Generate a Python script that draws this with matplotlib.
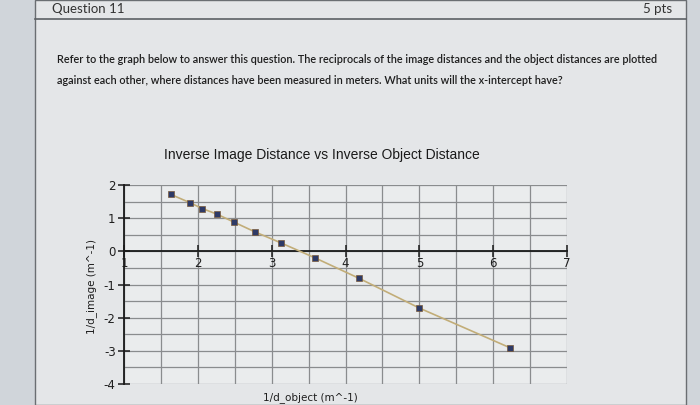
import matplotlib
matplotlib.use("Agg")
import matplotlib.pyplot as plt
from matplotlib.patches import Rectangle
from matplotlib.lines import Line2D
import numpy as np

# data
inv_object = [1.63, 1.90, 2.06, 2.26, 2.49, 2.77, 3.13, 3.59, 4.18, 5.00, 6.23]
inv_image = [1.72, 1.46, 1.29, 1.12, 0.88, 0.59, 0.25, -0.20, -0.81, -1.71, -2.91]
x_ticks = [1, 2, 3, 4, 5, 6, 7]
y_ticks = [-4, -3, -2, -1, 0, 1, 2]

title = "Inverse Image Distance vs Inverse Object Distance"
x_label = "1/d_object (m^-1)"
y_label = "1/d_image (m^-1)"
question = ("Refer to the graph below to answer this question. The reciprocals of the image distances and the object distances are plotted\n"
            "against each other, where distances have been measured in meters. What units will the x-intercept have?")

W, H = 700, 405
fig = plt.figure(figsize=(7, 4.05), dpi=100)
fig.patch.set_facecolor("#d0d5da")

def fx(px):
    return px / W

def fy(py):
    return 1 - py / H

# card
fig.patches.append(Rectangle((fx(35), 0), fx(686) - fx(35), fy(0), transform=fig.transFigure,
                             facecolor="#e4e6e8", edgecolor="#6a6e72", lw=1.0, zorder=-10))
fig.add_artist(Line2D([fx(35), fx(686)], [fy(19), fy(19)], transform=fig.transFigure,
                      color="#5c6064", lw=1.2, zorder=-9))
fig.text(fx(52), fy(9), "Question 11", fontsize=9.5, family="Lato", color="#333333", va="center")
fig.text(fx(672), fy(9), "5 pts", fontsize=9.5, family="Lato", color="#333333", va="center", ha="right")

fig.text(fx(57), fy(70), question, fontsize=7.8, family="Lato", fontweight=600, color="#1e1e1e",
         va="center", ha="left", linespacing=2.2)

ax = fig.add_axes([fx(124), fy(384), fx(567) - fx(124), fy(185) - fy(384)])
ax.set_facecolor("#eaeced")
ax.set_xlim(1, 7)
ax.set_ylim(-4, 2)

ax.plot(inv_object, inv_image, color="#c2ad78", lw=1.2, zorder=3)
ax.plot(inv_object, inv_image, ls="none", marker="s", ms=4.2, mfc="#2e3a66",
        mec="#7a5a3a", mew=0.5, zorder=4)

ax.set_xticks(x_ticks)
ax.set_xticks(np.arange(1, 7.01, 0.5), minor=True)
ax.set_yticks(y_ticks)
ax.set_yticks(np.arange(-4, 2.01, 0.5), minor=True)
ax.grid(True, which="both", color="#8a8c8e", lw=0.9)
ax.set_axisbelow(True)

ax.spines["bottom"].set_position(("data", 0))
ax.spines["bottom"].set_color("#1a1a1a")
ax.spines["bottom"].set_linewidth(1.3)
ax.spines["left"].set_color("#1a1a1a")
ax.spines["left"].set_linewidth(1.3)
ax.spines["top"].set_visible(False)
ax.spines["right"].set_visible(False)

ax.tick_params(axis="both", which="major", direction="inout", length=8, width=1.1,
               color="#1a1a1a", labelsize=8.5, labelcolor="#1e1e1e")
ax.tick_params(axis="both", which="minor", length=0)
ax.tick_params(axis="x", pad=0)
ax.tick_params(axis="y", pad=2)
ax.set_xticklabels([str(t) for t in x_ticks], family="DejaVu Sans")
ax.set_yticklabels([str(t) for t in y_ticks], family="DejaVu Sans")

fig.text(fx(322), fy(155), title, fontsize=10, family="Liberation Sans", color="#1a1a1a",
         ha="center", va="center")
fig.text(fx(92), fy(287), y_label, fontsize=7.5, family="DejaVu Sans", color="#1e1e1e",
         ha="center", va="center", rotation=90)
fig.text(fx(310), fy(398), x_label, fontsize=7.5, family="DejaVu Sans", color="#1e1e1e",
         ha="center", va="center")

fig.savefig("out.png", dpi=100, facecolor=fig.get_facecolor())
